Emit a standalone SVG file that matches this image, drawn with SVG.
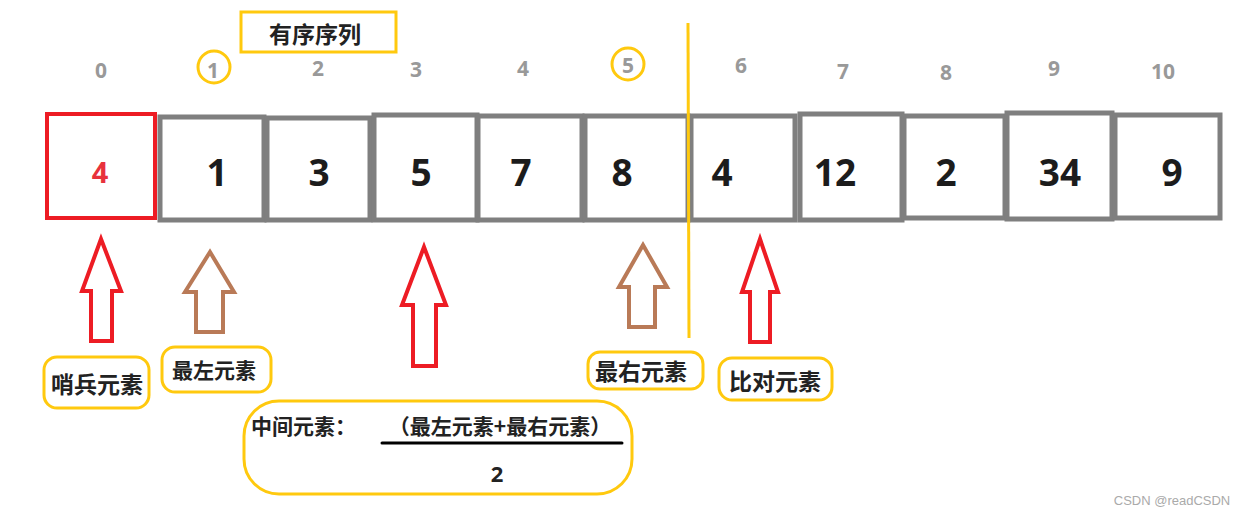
<svg xmlns="http://www.w3.org/2000/svg" width="1242" height="517" viewBox="0 0 1242 517">
<style>
text{font-family:"Noto Sans","Noto Sans CJK SC",sans-serif;font-weight:bold}
.cell{fill:#fff;stroke:#7f7f7f;stroke-width:5}
.val{font-size:37px;fill:#1c1c1c;text-anchor:middle}
.idx{font-size:21px;fill:#999;text-anchor:middle}
.yl{fill:none;stroke:#ffc90e;stroke-width:3}
.lbl{font-family:"Noto Sans CJK SC",sans-serif;font-size:23px;fill:#222;text-anchor:middle}
.ra{fill:#fff;stroke:#ed1c24;stroke-width:4;stroke-linejoin:miter}
.ba{fill:#fff;stroke:#b97a57;stroke-width:4;stroke-linejoin:miter}
</style>
<rect width="1242" height="517" fill="#fff"/>
<g id="title">
<rect class="yl" x="241" y="12" width="155" height="40"/>
<text class="lbl" x="315" y="43" style="font-size:23px">有序序列</text>
</g>
<g id="indices">
<text class="idx" x="101" y="78">0</text>
<text class="idx" x="213" y="78">1</text>
<text class="idx" x="318" y="76">2</text>
<text class="idx" x="416" y="77">3</text>
<text class="idx" x="523" y="76">4</text>
<text class="idx" x="628" y="73">5</text>
<text class="idx" x="741" y="73">6</text>
<text class="idx" x="843" y="79">7</text>
<text class="idx" x="946" y="80">8</text>
<text class="idx" x="1054" y="76">9</text>
<text class="idx" x="1163" y="79">10</text>
<circle class="yl" cx="214" cy="67" r="16"/>
<circle class="yl" cx="628" cy="64" r="16"/>
</g>
<g id="cell0"><rect x="47" y="114" width="108" height="104" fill="#fff" stroke="#ed1c24" stroke-width="4"/><text x="100" y="183" style="font-size:29px;fill:#e8323c;text-anchor:middle">4</text></g>
<g id="cell1"><rect class="cell" x="160" y="117" width="104" height="103"/><text class="val" x="217" y="186">1</text></g>
<g id="cell2"><rect class="cell" x="267" y="118" width="103" height="102"/><text class="val" x="319" y="186">3</text></g>
<g id="cell3"><rect class="cell" x="374" y="115" width="103" height="105"/><text class="val" x="421" y="186">5</text></g>
<g id="cell4"><rect class="cell" x="478" y="116" width="104" height="104"/><text class="val" x="521" y="186">7</text></g>
<g id="cell5"><rect class="cell" x="585" y="116" width="103" height="104"/><text class="val" x="622" y="186">8</text></g>
<g id="cell6"><rect class="cell" x="691" y="116" width="104" height="104"/><text class="val" x="722" y="186">4</text></g>
<g id="cell7"><rect class="cell" x="800" y="114" width="102" height="106"/><text class="val" x="835" y="186">12</text></g>
<g id="cell8"><rect class="cell" x="904" y="116" width="101" height="102"/><text class="val" x="946" y="186">2</text></g>
<g id="cell9"><rect class="cell" x="1007" y="113" width="105" height="106"/><text class="val" x="1060" y="186">34</text></g>
<g id="cell10"><rect class="cell" x="1115" y="115" width="105" height="103"/><text class="val" x="1172" y="186">9</text></g>
<g id="connectors">
<line x1="688" y1="23" x2="689" y2="338" stroke="#ffc90e" stroke-width="3"/>
<polygon class="ra" points="101,239 121,291 112,291 112,341 91,341 91,291 82,291"/>
<polygon class="ba" points="210,252 234,292 223,292 223,332 196,332 196,292 185,292"/>
<polygon class="ra" points="424,247 446,305 436,305 436,366 413,366 413,305 402,305"/>
<polygon class="ba" points="643,245 667,287 655,287 655,327 629,327 629,287 619,287"/>
<polygon class="ra" points="760,239 778,292 770,292 770,342 750,342 750,292 742,292"/>
</g>
<g id="sentinel"><rect class="yl" x="44" y="357" width="105" height="51" rx="13"/><text class="lbl" x="97" y="393">哨兵元素</text></g>
<g id="left"><rect class="yl" x="162" y="347" width="109" height="45" rx="13"/><text class="lbl" x="214" y="378" style="font-size:21px">最左元素</text></g>
<g id="right"><rect class="yl" x="588" y="352" width="115" height="37" rx="12"/><text class="lbl" x="641" y="380">最右元素</text></g>
<g id="compare"><rect class="yl" x="719" y="358" width="113" height="42" rx="13"/><text class="lbl" x="775" y="390">比对元素</text></g>
<g id="middle">
<rect class="yl" x="244" y="401" width="388" height="93" rx="35"/>
<text class="lbl" x="251" y="434" style="text-anchor:start;font-size:21px">中间元素：</text>
<text class="lbl" x="500" y="434" style="font-size:21px">（最左元素+最右元素）</text>
<line x1="382" y1="443" x2="622" y2="443" stroke="#000" stroke-width="3" stroke-linecap="round"/>
<text class="lbl" x="497" y="482" style="font-family:'Noto Sans',sans-serif;font-size:22px">2</text>
</g>
<text x="1172" y="505" style="font-family:'Liberation Sans',sans-serif;font-weight:normal;font-size:13px;fill:#aaa;text-anchor:middle">CSDN @readCSDN</text>
</svg>
